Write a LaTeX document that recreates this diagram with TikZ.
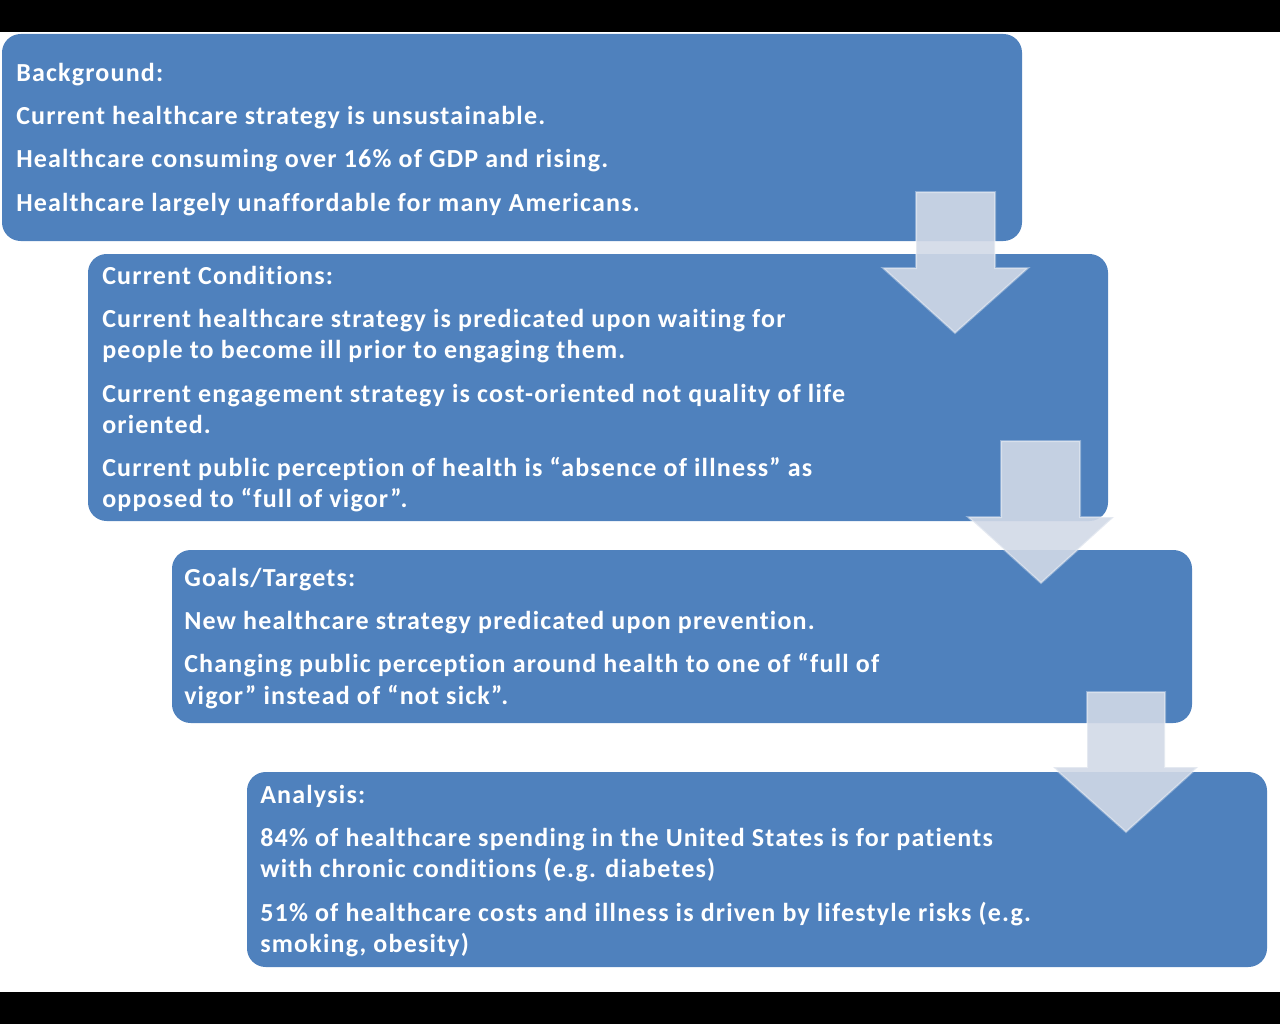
\documentclass[tikz,border=0pt]{standalone}
\usepackage{fontspec}
\setmainfont[Ligatures=NoCommon,RawFeature={-liga},LetterSpace=4.6]{Carlito}
\begin{document}
\begin{tikzpicture}[x=0.75pt,y=-0.75pt,
  box/.style={fill={rgb,255:red,79;green,129;blue,189}, rounded corners=14pt},
  arr/.style={fill={rgb,255:red,209;green,217;blue,231}, fill opacity=0.9,
     draw=white, draw opacity=0.35, line width=1.5pt, line join=miter},
  txt/.style={anchor=base west, inner sep=0pt, text=white, font=\fontsize{19.5}{23}\selectfont\bfseries}]
\useasboundingbox (0,0) rectangle (1280,1024);
\fill[black] (0,0) rectangle (1280,32);
\fill[black] (0,992) rectangle (1280,1024);
% boxes
\path[box] (2,34) rectangle (1022,241);
\path[box] (88,254) rectangle (1108,521);
\path[box] (172,550) rectangle (1192,723);
\path[box] (247,772) rectangle (1267,967);
% arrows
\path[arr] (916,192) -- (995,192) -- (995,268) -- (1028,268) -- (955,333) -- (883,268) -- (916,268) -- cycle;
\path[arr] (1001,441) -- (1080,441) -- (1080,517) -- (1114,517) -- (1041,583) -- (968,517) -- (1001,517) -- cycle;
\path[arr] (1087,692) -- (1165,692) -- (1165,767) -- (1198,767) -- (1126,832) -- (1053,767) -- (1087,767) -- cycle;
% box 1 text
\node[txt] (a1) at (16,81) {Background:};
\node[txt] (a2) at (16,124) {Current healthcare strategy is unsustainable.};
\node[txt] (a3) at (16,167) {Healthcare consuming over 16\% of GDP and rising.};
\node[txt] (a4) at (16,211) {Healthcare largely unaffordable for many Americans.};
% box 2 text
\node[txt] (b1) at (102,284) {Current Conditions:};
\node[txt] (b2) at (102,327) {Current healthcare strategy is predicated upon waiting for};
\node[txt] (b3) at (102,358) {people to become ill prior to engaging them.};
\node[txt] (b4) at (102,402) {Current engagement strategy is cost-oriented not quality of life};
\node[txt] (b5) at (102,433) {oriented.};
\node[txt] (b6) at (102,476) {Current public perception of health is “absence of illness” as};
\node[txt] (b7) at (102,507) {opposed to “full of vigor”.};
% box 3 text
\node[txt] (c1) at (184,586) {Goals/Targets:};
\node[txt] (c2) at (184,629) {New healthcare strategy predicated upon prevention.};
\node[txt] (c3) at (184,672) {Changing public perception around health to one of “full of};
\node[txt] (c4) at (184,704) {vigor” instead of “not sick”.};
% box 4 text
\node[txt] (d1) at (260,803) {Analysis:};
\node[txt] (d2) at (260,846) {84\% of healthcare spending in the United States is for patients};
\node[txt] (d3) at (260,877) {with chronic conditions (e.g. diabetes)};
\node[txt] (d4) at (260,921) {51\% of healthcare costs and illness is driven by lifestyle risks (e.g.};
\node[txt] (d5) at (260,952) {smoking, obesity)};
\end{tikzpicture}
\end{document}
